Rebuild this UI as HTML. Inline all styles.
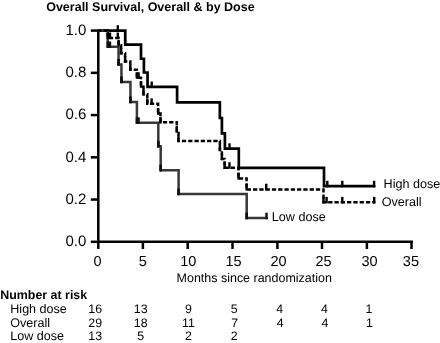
<!DOCTYPE html>
<html><head><meta charset="utf-8"><title>Overall Survival, Overall &amp; by Dose</title>
<style>html,body{margin:0;padding:0;background:#fff;width:440px;height:343px;overflow:hidden}svg{display:block;text-rendering:geometricPrecision}</style>
</head><body>
<svg width="440" height="343" viewBox="0 0 440 343">
<rect width="440" height="343" fill="#fff"/>
<text x="46.2" y="11.3" font-family='"Liberation Sans", sans-serif' font-weight="bold" font-size="12.5" fill="#000">Overall Survival, Overall &amp; by Dose</text>
<g stroke="#000" stroke-width="2.5" fill="none" stroke-linecap="butt">
<path d="M98.30 29.60 V241.80 H413.0"/>
<path d="M90.8 241.80 H98.30"/>
<path d="M90.8 199.56 H98.30"/>
<path d="M90.8 157.32 H98.30"/>
<path d="M90.8 115.08 H98.30"/>
<path d="M90.8 72.84 H98.30"/>
<path d="M90.8 30.60 H98.30"/>
<path d="M98.30 241.80 V249.0"/>
<path d="M142.90 241.80 V249.0"/>
<path d="M187.70 241.80 V249.0"/>
<path d="M232.50 241.80 V249.0"/>
<path d="M277.40 241.80 V249.0"/>
<path d="M322.00 241.80 V249.0"/>
<path d="M366.90 241.80 V249.0"/>
<path d="M411.50 241.80 V249.0"/>
</g>
<text x="86.4" y="246.07" text-anchor="end" font-family='"Liberation Sans", sans-serif' font-size="15.0" fill="#000">0.0</text>
<text x="86.4" y="203.83" text-anchor="end" font-family='"Liberation Sans", sans-serif' font-size="15.0" fill="#000">0.2</text>
<text x="86.4" y="161.59" text-anchor="end" font-family='"Liberation Sans", sans-serif' font-size="15.0" fill="#000">0.4</text>
<text x="86.4" y="119.35" text-anchor="end" font-family='"Liberation Sans", sans-serif' font-size="15.0" fill="#000">0.6</text>
<text x="86.4" y="77.11" text-anchor="end" font-family='"Liberation Sans", sans-serif' font-size="15.0" fill="#000">0.8</text>
<text x="86.4" y="34.87" text-anchor="end" font-family='"Liberation Sans", sans-serif' font-size="15.0" fill="#000">1.0</text>
<text x="97.45" y="265.8" text-anchor="middle" font-family='"Liberation Sans", sans-serif' font-size="14.5" fill="#000">0</text>
<text x="142.70" y="265.8" text-anchor="middle" font-family='"Liberation Sans", sans-serif' font-size="14.5" fill="#000">5</text>
<text x="188.30" y="265.8" text-anchor="middle" font-family='"Liberation Sans", sans-serif' font-size="14.5" fill="#000">10</text>
<text x="233.60" y="265.8" text-anchor="middle" font-family='"Liberation Sans", sans-serif' font-size="14.5" fill="#000">15</text>
<text x="278.60" y="265.8" text-anchor="middle" font-family='"Liberation Sans", sans-serif' font-size="14.5" fill="#000">20</text>
<text x="323.50" y="265.8" text-anchor="middle" font-family='"Liberation Sans", sans-serif' font-size="14.5" fill="#000">25</text>
<text x="369.50" y="265.8" text-anchor="middle" font-family='"Liberation Sans", sans-serif' font-size="14.5" fill="#000">30</text>
<text x="410.90" y="265.8" text-anchor="middle" font-family='"Liberation Sans", sans-serif' font-size="14.5" fill="#000">35</text>
<text x="176.6" y="281.7" font-family='"Liberation Sans", sans-serif' font-size="12.48" fill="#000">Months since randomization</text>
<path d="M98.30 30.60 H125.25 V44.70 H141.00 V58.75 H143.90 V72.50 H147.55 V86.95 H177.10 V102.30 H219.85 V118.00 H221.90 V133.30 H224.90 V148.70 H238.80 V167.80 H324.00 V186.15 H375.40" fill="none" stroke="#000" stroke-width="2.7"/>
<line x1="117.80" y1="31.70" x2="117.80" y2="25.20" stroke="#000" stroke-width="2.40"/><line x1="151.70" y1="88.05" x2="151.70" y2="81.55" stroke="#000" stroke-width="2.40"/><line x1="229.50" y1="149.80" x2="229.50" y2="143.30" stroke="#000" stroke-width="2.40"/><line x1="327.30" y1="187.25" x2="327.30" y2="180.75" stroke="#000" stroke-width="2.40"/><line x1="342.30" y1="187.25" x2="342.30" y2="180.75" stroke="#000" stroke-width="2.40"/><line x1="374.10" y1="187.25" x2="374.10" y2="180.75" stroke="#000" stroke-width="2.40"/>
<path d="M98.30 30.60 H107.75 V46.85 H118.55 V64.50 H121.45 V82.05 H130.45 V102.10 H136.90 V122.70 H158.30 V146.30 H160.70 V170.20 H178.60 V194.10 H246.70 V218.10 H267.80" fill="none" stroke="#383838" stroke-width="2.5"/>
<line x1="110.00" y1="47.95" x2="110.00" y2="41.45" stroke="#111" stroke-width="2.40"/><line x1="118.70" y1="65.60" x2="118.70" y2="59.10" stroke="#111" stroke-width="2.40"/><line x1="121.50" y1="83.15" x2="121.50" y2="76.65" stroke="#111" stroke-width="2.40"/><line x1="130.50" y1="103.20" x2="130.50" y2="96.70" stroke="#111" stroke-width="2.40"/><line x1="138.60" y1="123.80" x2="138.60" y2="117.30" stroke="#111" stroke-width="2.40"/><line x1="158.30" y1="147.40" x2="158.30" y2="140.90" stroke="#111" stroke-width="2.40"/><line x1="160.80" y1="171.30" x2="160.80" y2="164.80" stroke="#111" stroke-width="2.40"/><line x1="178.60" y1="195.20" x2="178.60" y2="188.70" stroke="#111" stroke-width="2.40"/><line x1="246.80" y1="219.20" x2="246.80" y2="212.70" stroke="#111" stroke-width="2.40"/><line x1="266.50" y1="219.20" x2="266.50" y2="212.70" stroke="#111" stroke-width="2.40"/><line x1="107.75" y1="47.95" x2="107.75" y2="41.45" stroke="#111" stroke-width="2.40"/><line x1="118.55" y1="65.60" x2="118.55" y2="59.10" stroke="#111" stroke-width="2.40"/><line x1="121.45" y1="83.15" x2="121.45" y2="76.65" stroke="#111" stroke-width="2.40"/><line x1="130.45" y1="103.20" x2="130.45" y2="96.70" stroke="#111" stroke-width="2.40"/><line x1="136.90" y1="123.80" x2="136.90" y2="117.30" stroke="#111" stroke-width="2.40"/><line x1="158.30" y1="147.40" x2="158.30" y2="140.90" stroke="#111" stroke-width="2.40"/><line x1="160.70" y1="171.30" x2="160.70" y2="164.80" stroke="#111" stroke-width="2.40"/><line x1="178.60" y1="195.20" x2="178.60" y2="188.70" stroke="#111" stroke-width="2.40"/><line x1="246.70" y1="219.20" x2="246.70" y2="212.70" stroke="#111" stroke-width="2.40"/>
<path d="M98.30 30.60 H107.80 V37.90 H118.60 V45.20 H121.10 V53.30 H125.10 V61.50 H130.30 V69.65 H136.90 V77.65 H141.00 V86.65 H143.50 V94.35 H147.30 V103.75 H158.10 V113.60 H160.50 V122.30 H176.80 V131.20 H178.50 V141.00 H219.90 V150.00 H221.90 V159.00 H224.60 V167.65 H238.50 V178.40 H246.60 V189.40 H323.50 V202.30 H375.40" fill="none" stroke="#000" stroke-width="2.5" stroke-dasharray="4.3 1.99" stroke-dashoffset="1.0"/>
<line x1="110.00" y1="39.00" x2="110.00" y2="32.50" stroke="#000" stroke-width="2.40"/><line x1="117.80" y1="39.00" x2="117.80" y2="32.50" stroke="#000" stroke-width="2.40"/><line x1="138.60" y1="78.75" x2="138.60" y2="72.25" stroke="#000" stroke-width="2.40"/><line x1="151.60" y1="104.85" x2="151.60" y2="98.35" stroke="#000" stroke-width="2.40"/><line x1="229.50" y1="168.75" x2="229.50" y2="162.25" stroke="#000" stroke-width="2.40"/><line x1="266.20" y1="190.20" x2="266.20" y2="183.70" stroke="#000" stroke-width="2.40"/><line x1="326.60" y1="203.40" x2="326.60" y2="196.90" stroke="#000" stroke-width="2.40"/><line x1="342.30" y1="203.40" x2="342.30" y2="196.90" stroke="#000" stroke-width="2.40"/><line x1="374.20" y1="203.40" x2="374.20" y2="196.90" stroke="#000" stroke-width="2.40"/><line x1="107.80" y1="39.00" x2="107.80" y2="32.50" stroke="#000" stroke-width="2.40"/><line x1="118.60" y1="46.30" x2="118.60" y2="39.80" stroke="#000" stroke-width="2.40"/><line x1="121.10" y1="54.40" x2="121.10" y2="47.90" stroke="#000" stroke-width="2.40"/><line x1="125.10" y1="62.60" x2="125.10" y2="56.10" stroke="#000" stroke-width="2.40"/><line x1="130.30" y1="70.75" x2="130.30" y2="64.25" stroke="#000" stroke-width="2.40"/><line x1="136.90" y1="78.75" x2="136.90" y2="72.25" stroke="#000" stroke-width="2.40"/><line x1="141.00" y1="87.75" x2="141.00" y2="81.25" stroke="#000" stroke-width="2.40"/><line x1="143.50" y1="95.45" x2="143.50" y2="88.95" stroke="#000" stroke-width="2.40"/><line x1="147.30" y1="104.85" x2="147.30" y2="98.35" stroke="#000" stroke-width="2.40"/><line x1="158.10" y1="114.70" x2="158.10" y2="108.20" stroke="#000" stroke-width="2.40"/><line x1="160.50" y1="123.40" x2="160.50" y2="116.90" stroke="#000" stroke-width="2.40"/><line x1="176.80" y1="132.30" x2="176.80" y2="125.80" stroke="#000" stroke-width="2.40"/><line x1="178.50" y1="142.10" x2="178.50" y2="135.60" stroke="#000" stroke-width="2.40"/><line x1="219.90" y1="151.10" x2="219.90" y2="144.60" stroke="#000" stroke-width="2.40"/><line x1="221.90" y1="160.10" x2="221.90" y2="153.60" stroke="#000" stroke-width="2.40"/><line x1="224.60" y1="168.75" x2="224.60" y2="162.25" stroke="#000" stroke-width="2.40"/><line x1="238.50" y1="179.50" x2="238.50" y2="173.00" stroke="#000" stroke-width="2.40"/><line x1="246.60" y1="190.50" x2="246.60" y2="184.00" stroke="#000" stroke-width="2.40"/><line x1="323.50" y1="203.40" x2="323.50" y2="196.90" stroke="#000" stroke-width="2.40"/>
<text x="383.6" y="188.0" font-family='"Liberation Sans", sans-serif' font-size="12.6" fill="#000">High dose</text>
<text x="381.7" y="205.6" font-family='"Liberation Sans", sans-serif' font-size="12.6" fill="#000">Overall</text>
<text x="271.8" y="220.9" font-family='"Liberation Sans", sans-serif' font-size="12.6" fill="#000">Low dose</text>
<text x="0.3" y="298.6" font-family='"Liberation Sans", sans-serif' font-weight="bold" font-size="12.42" fill="#000">Number at risk</text>
<text x="10.3" y="312.9" font-family='"Liberation Sans", sans-serif' font-size="12.55" fill="#000">High dose</text>
<text x="95.20" y="312.9" text-anchor="middle" font-family='"Liberation Sans", sans-serif' font-size="12.35" fill="#000">16</text>
<text x="140.70" y="312.9" text-anchor="middle" font-family='"Liberation Sans", sans-serif' font-size="12.35" fill="#000">13</text>
<text x="188.40" y="312.9" text-anchor="middle" font-family='"Liberation Sans", sans-serif' font-size="12.35" fill="#000">9</text>
<text x="234.30" y="312.9" text-anchor="middle" font-family='"Liberation Sans", sans-serif' font-size="12.35" fill="#000">5</text>
<text x="279.70" y="312.9" text-anchor="middle" font-family='"Liberation Sans", sans-serif' font-size="12.35" fill="#000">4</text>
<text x="324.50" y="312.9" text-anchor="middle" font-family='"Liberation Sans", sans-serif' font-size="12.35" fill="#000">4</text>
<text x="369.00" y="312.9" text-anchor="middle" font-family='"Liberation Sans", sans-serif' font-size="12.35" fill="#000">1</text>
<text x="10.3" y="327.3" font-family='"Liberation Sans", sans-serif' font-size="12.55" fill="#000">Overall</text>
<text x="95.20" y="327.3" text-anchor="middle" font-family='"Liberation Sans", sans-serif' font-size="12.35" fill="#000">29</text>
<text x="140.70" y="327.3" text-anchor="middle" font-family='"Liberation Sans", sans-serif' font-size="12.35" fill="#000">18</text>
<text x="188.40" y="327.3" text-anchor="middle" font-family='"Liberation Sans", sans-serif' font-size="12.35" fill="#000">11</text>
<text x="234.80" y="327.3" text-anchor="middle" font-family='"Liberation Sans", sans-serif' font-size="12.35" fill="#000">7</text>
<text x="280.20" y="327.3" text-anchor="middle" font-family='"Liberation Sans", sans-serif' font-size="12.35" fill="#000">4</text>
<text x="325.00" y="327.3" text-anchor="middle" font-family='"Liberation Sans", sans-serif' font-size="12.35" fill="#000">4</text>
<text x="369.50" y="327.3" text-anchor="middle" font-family='"Liberation Sans", sans-serif' font-size="12.35" fill="#000">1</text>
<text x="10.3" y="340.2" font-family='"Liberation Sans", sans-serif' font-size="12.55" fill="#000">Low dose</text>
<text x="95.20" y="340.2" text-anchor="middle" font-family='"Liberation Sans", sans-serif' font-size="12.35" fill="#000">13</text>
<text x="140.70" y="340.2" text-anchor="middle" font-family='"Liberation Sans", sans-serif' font-size="12.35" fill="#000">5</text>
<text x="188.40" y="340.2" text-anchor="middle" font-family='"Liberation Sans", sans-serif' font-size="12.35" fill="#000">2</text>
<text x="234.30" y="340.2" text-anchor="middle" font-family='"Liberation Sans", sans-serif' font-size="12.35" fill="#000">2</text>
</svg>
</body></html>
